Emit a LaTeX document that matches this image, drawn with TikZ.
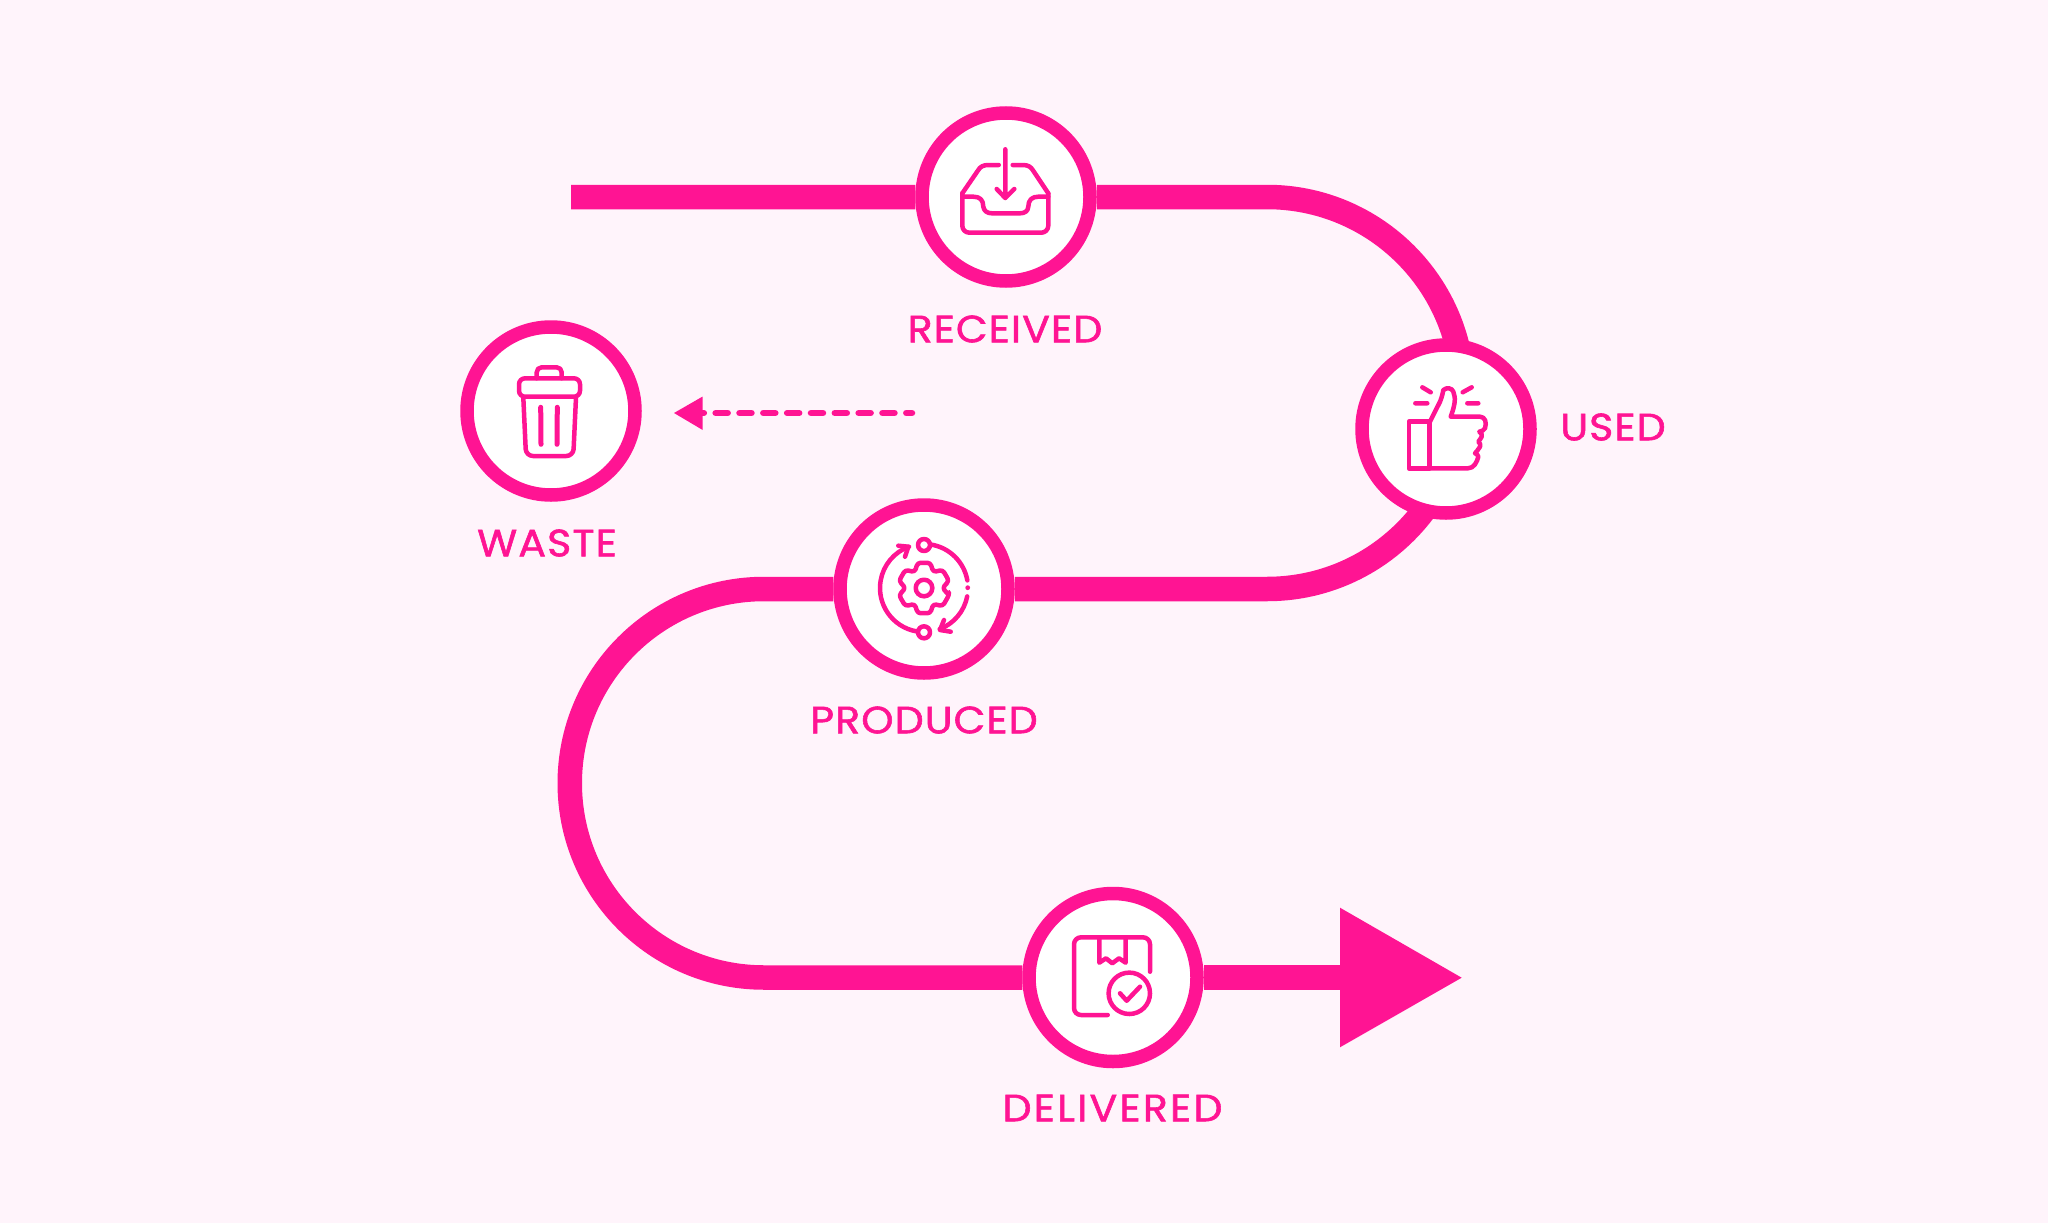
\documentclass[tikz,border=0pt]{standalone}
\usepackage{fontspec}
\setmainfont{Poppins}[LetterSpace=3,FakeStretch=1.08,FakeBold=1.5]
\usetikzlibrary{backgrounds}
\definecolor{flowpink}{HTML}{FF1493}
\definecolor{paper}{HTML}{FFF4FB}
\tikzset{
  flow/.style={draw=flowpink,line width=24.5},
  stage/.style={circle,draw=flowpink,line width=13.5,fill=white,minimum size=168,inner sep=0},
  caption/.style={text=flowpink,font=\fontsize{38}{38}\selectfont,inner sep=0,anchor=center},
  icon/.style={draw=flowpink,line width=4.5,line cap=round,line join=round}
}
\begin{document}
\begin{tikzpicture}[x=1pt,y=-1pt]
	\useasboundingbox (0,0) rectangle (2048,1223);
	% stages
	\node[stage] (received) at (1006,197) {};
	\node[stage] (used) at (1446,429) {};
	\node[stage] (waste) at (551,411) {};
	\node[stage] (produced) at (924,589) {};
	\node[stage] (delivered) at (1113,977.5) {};
	% free ends
	\coordinate (start) at (571,197);
	\coordinate (topbend) at (1267,197);
	\coordinate (midbend) at (764,589);
	\coordinate (tip) at (1461.7,977.7);
	\coordinate (dashstart) at (912,413);
	\coordinate (dashend) at (695,413);
	\begin{scope}[on background layer]
		\fill[paper] (0,0) rectangle (2048,1223);
		\draw[flow] (start) -- (received) -- (topbend) arc[start angle=-90,end angle=90,radius=196] -- (produced);
		\draw[flow] (produced) -- (midbend) arc[start angle=-90,end angle=-270,radius=194.25] -- (delivered);
		\draw[flow] (delivered) -- (1345,977.5);
	\end{scope}
	\fill[flowpink] (1340,907.7) -- (tip) -- (1340,1047.3) -- cycle;
	\draw[flowpink,line width=6.5,line cap=round,dash pattern=on 12 off 11.83,dash phase=6.3] (dashstart) -- (dashend);
	\fill[flowpink] (674,413) -- (702.7,396.5) -- (702.7,430) -- cycle;
	% labels
	\node[caption] (receivedtxt) at (1005,329) {RECEIVED};
	\node[caption] (usedtxt) at (1613,427) {USED};
	\node[caption] (wastetxt) at (547,543) {WASTE};
	\node[caption] (producedtxt) at (924,720) {PRODUCED};
	\node[caption] (deliveredtxt) at (1112.5,1108) {\addfontfeature{LetterSpace=6}DELIVERED};
	% inbox
	\draw[icon] (1005.3,149.3) -- (1005.3,198) (996.7,189) -- (1005.3,198) -- (1014.3,189);
	\draw[icon] (998.7,165) -- (988.3,165) .. controls (983,165) and (980,167) .. (978.3,170) -- (962.3,193.3);
	\draw[icon] (1012.7,165) -- (1023,165) .. controls (1028,165) and (1031,167) .. (1032.7,170) -- (1048.3,193.3);
	\draw[icon,rounded corners=7] (962.3,193.3) -- (962.3,232.7) -- (1048.3,232.7) -- (1048.3,193.3);
	\draw[icon] (962.3,196.7) -- (973.3,196.7) .. controls (980,196.7) and (983.3,200) .. (983.3,206.7) .. controls (984,211) and (987,213.3) .. (992,213.3) -- (1020,213.3) .. controls (1025,213.3) and (1028,211) .. (1028.3,206.7) .. controls (1028.3,200) and (1032,196.7) .. (1038.3,196.7) -- (1048.3,196.7);
	% thumb
	\draw[icon] (1409,421.7) rectangle (1429.3,468.3);
	\draw[icon] (1429.3,423) -- (1440,401.7) .. controls (1442,397) and (1443,392) .. (1443.3,390) .. controls (1447,387) and (1452,388) .. (1453.3,391.7) .. controls (1456,398) and (1455,405) .. (1450.7,416.7) -- (1480,416.7) .. controls (1485,417) and (1487,422) .. (1485,428.3) .. controls (1484,431) and (1481,431) .. (1479.3,431.7) .. controls (1481,433) and (1483,435) .. (1481.7,436.7) .. controls (1481,439) and (1479,440) .. (1478.3,441.7) .. controls (1480,443) and (1481,445) .. (1480,446.7) .. controls (1479,450) and (1476,451) .. (1475,453.3) .. controls (1477,454) and (1478,455) .. (1478.3,456.7) .. controls (1477,462) and (1474,468.3) .. (1468,468.3) -- (1429.3,468.3);
	\draw[icon] (1422.3,387.3) -- (1430.7,392.3) (1415.3,403.3) -- (1427.3,403.3) (1471.7,387.3) -- (1462.7,392.3) (1467.3,403.3) -- (1478.3,403.3);
	% trash
	\draw[icon,rounded corners=6] (519,396.7) -- (519,378.3) -- (580,378.3) -- (580,396.7) -- cycle;
	\draw[icon,rounded corners=5] (536.7,378.3) -- (536.7,367.3) -- (561.7,367.3) -- (561.7,378.3);
	\draw[icon,rounded corners=7] (523.3,397.3) -- (526,456) -- (573.3,456) -- (576,397.3);
	\draw[icon,line width=5] (540.7,407.3) -- (541,444.3) (557.3,407.3) -- (557,444.3);
	% gear
	\begin{scope}[shift={(924,588)}]
		\draw[icon,rounded corners=3] (16:26)
			\foreach \a in {30,90,...,330} {
				-- (\a+14:26) -- (\a+30:18.5) -- (\a+46:26)
			} -- cycle;
		\draw[icon] (0,0) circle (8.3);
		\draw[icon] (0,-43) circle (6) (0,44.3) circle (6);
		\fill[flowpink] (43.7,-0.3) circle (2.4);
		\draw[icon] (100:44) arc[start angle=100,end angle=250,radius=44];
		\draw[icon] (-25.7,-42.3) -- (-15.7,-41.3) -- (-19,-31.3);
		\draw[icon] (-81:44) arc[start angle=-81,end angle=-10,radius=44];
		\draw[icon] (11:44) arc[start angle=11,end angle=69,radius=44];
		\draw[icon] (26.7,43.7) -- (16,42) -- (20,32);
	\end{scope}
	% box
	\draw[icon,rounded corners=7] (1150,971.7) -- (1150,937.3) -- (1074,937.3) -- (1074,1015) -- (1107.7,1015);
	\draw[icon] (1099.3,937.3) -- (1099.3,962.7) -- (1106,958.3) -- (1112.3,963.3) -- (1119,958.3) -- (1125.7,962.7) -- (1125.7,937.3);
	\draw[icon] (1129.3,993.3) circle (20.7);
	\draw[icon] (1120,993.3) -- (1126.7,1000.7) -- (1140,986.7);
\end{tikzpicture}
\end{document}
